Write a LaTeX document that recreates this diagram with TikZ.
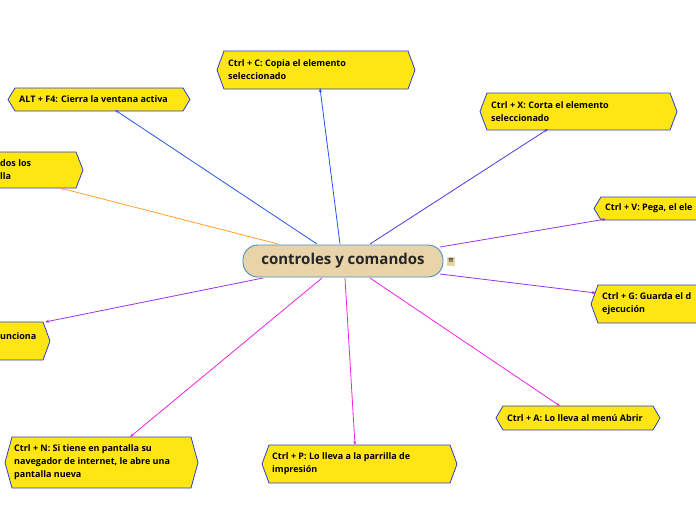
\documentclass[tikz,border=0pt]{standalone}
\usepackage{fontspec}
\setmainfont{Open Sans}
\newfontfamily\dejavu{DejaVu Sans}
\usetikzlibrary{arrows.meta}
\definecolor{nyel}{HTML}{FFE512}
\definecolor{nbor}{HTML}{2B3FD0}
\definecolor{cfill}{HTML}{E8D4A8}
\definecolor{cbor}{HTML}{4A90C0}
\definecolor{eblue}{HTML}{2255EE}
\definecolor{eviol}{HTML}{5533E0}
\definecolor{eora}{HTML}{FFA030}
\definecolor{epur}{HTML}{9A33F0}
\definecolor{emag}{HTML}{EE22DD}
\tikzset{
 conn/.style={line width=0.8pt,-{Stealth[length=4pt,width=3pt]}},
 lbl/.style={anchor=west,align=left,font=\fontsize{9}{13}\selectfont\bfseries,inner sep=0pt}
}
% \hexb{x1}{x2}{y1}{y2}
\newcommand{\hexb}[4]{\draw[nbor,fill=nyel,line width=0.8pt] (#1,#3) -- (#2-7,#3) -- (#2,{(#3+#4)/2}) -- (#2-7,#4) -- (#1,#4) -- (#1-7,{(#3+#4)/2}) -- cycle;}
\begin{document}
\begin{tikzpicture}[x=1pt,y=-1pt]
\useasboundingbox (0,0) rectangle (696,520);
\begin{scope}
\clip (0,0) rectangle (696,520);
\hexb{15}{190}{88}{111}
\node[lbl] (altf) at (19,99.5) {ALT + F4: Cierra la ventana activa};
\hexb{224}{415}{51}{89}
\node[lbl] (ctrlc) at (228,70) {Ctrl + C: Copia el elemento\\seleccionado};
\hexb{487}{677}{93}{130}
\node[lbl] (ctrlx) at (491,111.5) {Ctrl + X: Corta el elemento\\seleccionado};
\hexb{-120}{83}{152}{188}
\node[lbl] (left1) at (0,170) {dos los\\lla};
\hexb{601}{760}{197}{220}
\node[lbl] (ctrlv) at (605,208.5) {Ctrl + V: Pega, el ele};
\hexb{598}{760}{285}{323}
\node[lbl] (ctrlg) at (602,304) {Ctrl + G: Guarda el d\\ejecución};
\hexb{-120}{50}{322}{360}
\node[lbl] (left2) at (0,336) {unciona};
\hexb{12}{198}{437}{488}
\node[lbl] (ctrln) at (14,462.5) {Ctrl + N: Si tiene en pantalla su\\navegador de internet, le abre una\\pantalla nueva};
\hexb{269}{457}{445}{483}
\node[lbl] (ctrlp) at (272,464) {Ctrl + P: Lo lleva a la parrilla de\\impresión};
\hexb{503}{660}{406}{430}
\node[lbl] (ctrla) at (507,418) {Ctrl + A: Lo lleva al menú Abrir};
\end{scope}
\coordinate (eA) at (115,110); \coordinate (eC) at (320,88); \coordinate (eX) at (548,129);
\coordinate (eL1) at (60,188); \coordinate (eV) at (606,219); \coordinate (eG) at (596,293);
\coordinate (eL2) at (45,322); \coordinate (eN) at (130,437); \coordinate (eP) at (355,445);
\coordinate (eAb) at (560,406);
\coordinate (sA) at (317,244); \coordinate (sC) at (340,244); \coordinate (sX) at (370,244);
\coordinate (sL1) at (278,244); \coordinate (sV) at (440,247); \coordinate (sG) at (440,274);
\coordinate (sL2) at (263,278); \coordinate (sN) at (322,278); \coordinate (sP) at (345,278);
\coordinate (sAb) at (370,278);
\draw[conn,eblue] (sA) -- (eA);
\draw[conn,eblue] (sC) -- (eC);
\draw[conn,eviol] (sX) -- (eX);
\draw[conn,eora] (sL1) -- (eL1);
\draw[conn,epur] (sV) -- (eV);
\draw[conn,epur] (sG) -- (eG);
\draw[conn,epur] (sL2) -- (eL2);
\draw[conn,emag] (sN) -- (eN);
\draw[conn,emag] (sP) -- (eP);
\draw[conn,emag] (sAb) -- (eAb);
\draw[cbor,fill=cfill,line width=0.9pt,rounded corners=15pt] (243,245) rectangle (443,277);
\node[font=\fontsize{15}{17}\selectfont\bfseries,text=black!85] (center) at (343,261) {controles y comandos};
\node[fill=cfill,inner sep=0pt,minimum width=8pt,minimum height=9pt,font=\dejavu\fontsize{7}{7}\selectfont] (icon) at (451,261) {≡};
\end{tikzpicture}
\end{document}
